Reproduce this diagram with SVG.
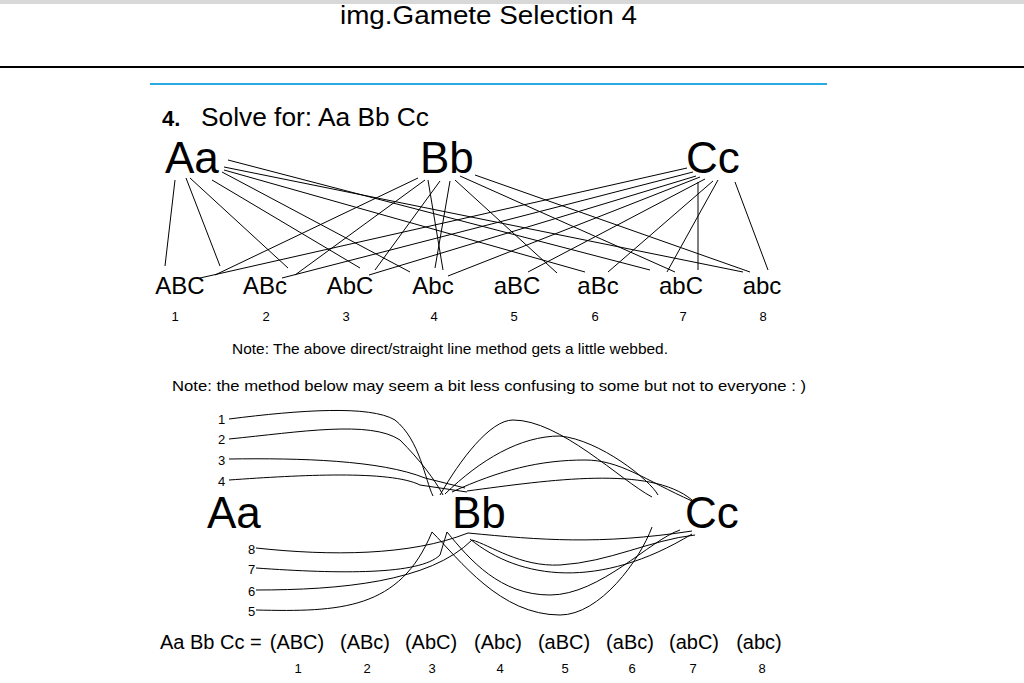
<svg xmlns="http://www.w3.org/2000/svg" width="1024" height="683" viewBox="0 0 1024 683">
<style>
text{font-family:"Liberation Sans","Open Sans",sans-serif;fill:#000}
.big{font-size:44px}
.lab{font-size:24px;text-anchor:middle}
.num{font-size:13px;text-anchor:middle}
.note{font-size:15px}
.f{font-size:20px;text-anchor:middle}
line,path{stroke:#000;stroke-width:1;fill:none}
</style>
<rect width="1024" height="683" fill="#fff"/>
<rect x="0" y="0" width="1024" height="4" fill="#d8d8d8"/>
<text x="340" y="24" font-size="25" textLength="297" lengthAdjust="spacingAndGlyphs">img.Gamete Selection 4</text>
<rect x="0" y="66" width="1024" height="2" fill="#000"/>
<rect x="150" y="83" width="677" height="2" fill="#29abe2"/>
<text x="162" y="126" font-size="22" font-weight="bold" font-family="Liberation Serif,serif">4.</text>
<text x="201" y="126" font-size="25" textLength="228" lengthAdjust="spacingAndGlyphs">Solve for:  Aa Bb Cc</text>
<g id="top-nodes">
<text class="big" x="165" y="173">Aa</text>
<text class="big" x="420" y="173">Bb</text>
<text class="big" x="686" y="173">Cc</text>
</g>
<g id="gametes">
<text class="lab" x="180" y="294">ABC</text><text class="lab" x="265" y="294">ABc</text><text class="lab" x="350" y="294">AbC</text><text class="lab" x="433" y="294">Abc</text>
<text class="lab" x="517" y="294">aBC</text><text class="lab" x="598" y="294">aBc</text><text class="lab" x="681" y="294">abC</text><text class="lab" x="762" y="294">abc</text>
<text class="num" x="175" y="321">1</text><text class="num" x="266" y="321">2</text><text class="num" x="346" y="321">3</text><text class="num" x="434" y="321">4</text>
<text class="num" x="514" y="321">5</text><text class="num" x="595" y="321">6</text><text class="num" x="683" y="321">7</text><text class="num" x="763" y="321">8</text>
</g>
<g id="connectors-top">
<line x1="175" y1="180" x2="165" y2="266"/><line x1="186" y1="178" x2="220" y2="266"/>
<line x1="190" y1="178" x2="288" y2="268"/><line x1="212" y1="180" x2="360" y2="268"/>
<line x1="222" y1="172" x2="410" y2="272"/><line x1="224" y1="170" x2="585" y2="272"/>
<line x1="224" y1="167" x2="743" y2="272"/><line x1="228" y1="160" x2="650" y2="270"/>
<line x1="418" y1="178" x2="215" y2="275"/><line x1="425" y1="180" x2="295" y2="275"/>
<line x1="440" y1="181" x2="375" y2="270"/><line x1="450" y1="181" x2="435" y2="268"/>
<line x1="428" y1="180" x2="443" y2="270"/><line x1="455" y1="180" x2="557" y2="273"/>
<line x1="460" y1="176" x2="675" y2="272"/><line x1="475" y1="175" x2="750" y2="272"/>
<line x1="687" y1="168" x2="200" y2="278"/><line x1="693" y1="172" x2="282" y2="278"/>
<line x1="696" y1="176" x2="369" y2="275"/><line x1="700" y1="177" x2="448" y2="276"/>
<line x1="705" y1="179" x2="528" y2="272"/><line x1="713" y1="181" x2="608" y2="272"/>
<line x1="698" y1="182" x2="698" y2="270"/><line x1="718" y1="180" x2="667" y2="272"/>
<line x1="735" y1="182" x2="768" y2="270"/>
</g>
<text class="note" x="232" y="354" textLength="436" lengthAdjust="spacingAndGlyphs">Note: The above direct/straight line method gets a little webbed.</text>
<text class="note" x="172" y="391" textLength="634" lengthAdjust="spacingAndGlyphs">Note: the method below may seem a bit less confusing to some but not to everyone : )</text>
<g id="bottom-nodes">
<text class="big" x="207" y="528">Aa</text>
<text class="big" x="452" y="528">Bb</text>
<text class="big" x="685" y="528">Cc</text>
</g>
<g id="numbers" font-size="13">
<text x="218" y="424">1</text><text x="218" y="444">2</text><text x="218" y="465">3</text><text x="218" y="486">4</text>
<text x="248" y="554">8</text><text x="248" y="574">7</text><text x="248" y="596">6</text><text x="248" y="616">5</text>
</g>
<g id="connectors-bottom">
<path d="M229,419 C300,410 370,405 395,420 C420,440 425,480 433,496"/>
<path d="M229,439 C300,432 370,420 400,440 C420,460 435,480 443,495"/>
<path d="M229,459 C300,458 380,460 425,478 L465,488"/>
<path d="M229,480 C300,475 390,470 420,485 L467,492"/>
<path d="M440,495 C460,460 490,420 513,420 C560,420 620,480 652,497"/>
<path d="M445,494 C480,460 520,436 560,436 C600,440 650,480 658,495"/>
<path d="M452,492 C500,470 540,460 585,460 C620,460 645,480 692,501"/>
<path d="M467,491 C550,480 650,465 692,500"/>
<path d="M256,548 C330,556 410,556 468,533 C540,540 600,545 692,531"/>
<path d="M256,568 C340,574 420,575 440,555 L447,532 C470,560 500,595 550,595 C600,595 650,540 680,530"/>
<path d="M256,590 C340,590 430,582 472,540 C490,545 520,567 560,565 C610,562 650,540 695,535"/>
<path d="M256,610 C340,612 400,610 432,532 C460,560 500,615 560,615 C600,615 640,560 652,527"/>
<path d="M470,539 C520,580 600,590 692,534"/>
</g>
<text x="160" y="649" font-size="20">Aa  Bb Cc =</text>
<text class="f" x="297" y="649">(ABC)</text><text class="f" x="365" y="649">(ABc)</text><text class="f" x="431" y="649">(AbC)</text><text class="f" x="498" y="649">(Abc)</text>
<text class="f" x="564" y="649">(aBC)</text><text class="f" x="630" y="649">(aBc)</text><text class="f" x="694" y="649">(abC)</text><text class="f" x="759" y="649">(abc)</text>
<g>
<text class="num" x="298" y="673">1</text><text class="num" x="367" y="673">2</text><text class="num" x="432" y="673">3</text><text class="num" x="500" y="673">4</text>
<text class="num" x="565" y="673">5</text><text class="num" x="632" y="673">6</text><text class="num" x="693" y="673">7</text><text class="num" x="762" y="673">8</text>
</g>
</svg>
